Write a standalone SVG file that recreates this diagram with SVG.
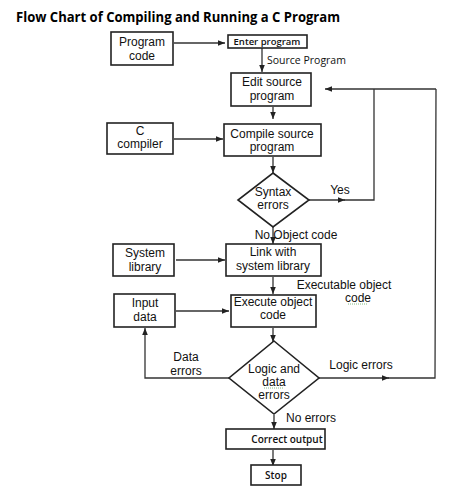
<svg xmlns="http://www.w3.org/2000/svg" width="474" height="490" viewBox="0 0 474 490">
<defs>
<style>
.box{fill:#fff;stroke:#222;stroke-width:1.6}
.ln{fill:none;stroke:#333;stroke-width:1.3}
.t{font-family:"Liberation Sans",Arial,sans-serif;font-size:12px;fill:#111;text-anchor:middle}
.c{font-family:"Open Sans","Noto Sans",sans-serif;fill:#111}
.ttl{font-family:"Open Sans","Noto Sans",sans-serif;font-weight:bold;font-size:13.5px;fill:#000}
.wavy{fill:none;stroke:#6a6;stroke-width:0.8;stroke-dasharray:1 1}
</style>
<marker id="ah" viewBox="0 0 10 10" refX="10" refY="5" markerWidth="7" markerHeight="7" markerUnits="userSpaceOnUse" orient="auto"><path d="M0,1 L10,5 L0,9 z" fill="#222"/></marker>
</defs>
<rect width="474" height="490" fill="#fff"/>
<text class="ttl" x="16" y="22" textLength="324" lengthAdjust="spacingAndGlyphs">Flow Chart of Compiling and Running a C Program</text>

<g id="connectors">
<line class="ln" x1="174" y1="43" x2="225" y2="43" marker-end="url(#ah)"/>
<line class="ln" x1="262" y1="47" x2="262" y2="72" marker-end="url(#ah)" stroke-width="1.8"/>
<line class="ln" x1="273" y1="107" x2="273" y2="119" marker-end="url(#ah)"/>
<line class="ln" x1="174" y1="139" x2="223" y2="139" marker-end="url(#ah)"/>
<line class="ln" x1="273" y1="157" x2="273" y2="173" marker-end="url(#ah)"/>
<line class="ln" x1="309" y1="200" x2="345" y2="200" marker-end="url(#ah)"/>
<polyline class="ln" points="344,200 374,200 374,89"/>
<polyline class="ln" points="436,89 325,89" marker-end="url(#ah)"/>
<line class="ln" x1="273" y1="227" x2="273" y2="244" marker-end="url(#ah)" stroke-width="1.8"/>
<line class="ln" x1="176" y1="260" x2="225" y2="260" marker-end="url(#ah)"/>
<line class="ln" x1="273" y1="277" x2="273" y2="294" marker-end="url(#ah)"/>
<line class="ln" x1="176" y1="311" x2="229" y2="311" marker-end="url(#ah)"/>
<line class="ln" x1="273" y1="328" x2="273" y2="342" marker-end="url(#ah)"/>
<polyline class="ln" points="229,378 145,378 145,328" marker-end="url(#ah)"/>
<line class="ln" x1="319" y1="378" x2="389" y2="378" marker-end="url(#ah)"/>
<polyline class="ln" points="388,378 435,378 436,89"/>
<line class="ln" x1="274" y1="415" x2="274" y2="429" marker-end="url(#ah)"/>
<line class="ln" x1="273" y1="450" x2="273" y2="466" marker-end="url(#ah)" stroke-width="1.6"/>
</g>

<g id="program-code"><rect class="box" x="111" y="32" width="62" height="33"/><text class="t" x="142" y="46">Program</text><text class="t" x="142" y="60">code</text></g>
<g id="enter-program"><rect class="box" x="228" y="35" width="79" height="13"/><text class="c" x="267" y="45" font-size="9.5" font-weight="600" text-anchor="middle">Enter program</text></g>
<g id="source-program-label"><text class="c" x="267" y="64" font-size="10.5">Source Program</text></g>
<g id="edit-source"><rect class="box" x="231" y="73" width="80" height="33"/><text class="t" x="272" y="86">Edit source</text><text class="t" x="272" y="100">program</text></g>
<g id="c-compiler"><rect class="box" x="107" y="123" width="66" height="31"/><text class="t" x="140" y="135">C</text><text class="t" x="140" y="148">compiler</text></g>
<g id="compile"><rect class="box" x="224" y="124" width="97" height="32"/><text class="t" x="272" y="138">Compile source</text><text class="t" x="272" y="151">program</text></g>
<g id="syntax-errors"><polygon class="box" points="273,173 309,200 273,227 238,200"/><text class="t" x="273" y="196">Syntax</text><text class="t" x="273" y="209">errors</text></g>
<g id="yes-label"><text class="t" x="340" y="194">Yes</text></g>
<g id="no-object-label"><text class="t" x="296" y="239">No Object code</text></g>
<g id="system-library"><rect class="box" x="113" y="244" width="61" height="32"/><text class="t" x="145" y="257">System</text><text class="t" x="145" y="271">library</text></g>
<g id="link"><rect class="box" x="226" y="244" width="95" height="32"/><text class="t" x="273" y="256">Link with</text><text class="t" x="273" y="270">system library</text></g>
<g id="executable-label"><text class="t" x="344" y="289">Executable object</text><text class="t" x="358" y="302" font-size="11">code</text><path class="wavy" d="M348,304 L368,304"/></g>
<g id="input-data"><rect class="box" x="114" y="294" width="61" height="33"/><text class="t" x="145" y="307">Input</text><text class="t" x="145" y="321">data</text></g>
<g id="execute"><rect class="box" x="231" y="295" width="85" height="32"/><text class="t" x="273" y="306">Execute object</text><text class="t" x="273" y="319">code</text></g>
<g id="logic-data-errors"><polygon class="box" points="274,341 319,378 274,414 229,378"/><text class="t" x="274" y="373" font-size="11">Logic and</text><text class="t" x="274" y="386" font-size="11">data</text><path class="wavy" d="M264,388 L284,388"/><text class="t" x="274" y="399" font-size="11">errors</text></g>
<g id="data-errors-label"><text class="t" x="186" y="361">Data</text><text class="t" x="186" y="375">errors</text></g>
<g id="logic-errors-label"><text class="t" x="361" y="369">Logic errors</text></g>
<g id="no-errors-label"><text class="t" x="311" y="422">No errors</text></g>
<g id="correct-output"><rect class="box" x="226" y="429" width="99" height="20"/><text class="c" x="287" y="443" font-size="10" font-weight="600" text-anchor="middle">Correct output</text></g>
<g id="stop"><rect class="box" x="251" y="465" width="50" height="20"/><text class="c" x="276" y="479" font-size="10" font-weight="600" text-anchor="middle">Stop</text></g>
</svg>
